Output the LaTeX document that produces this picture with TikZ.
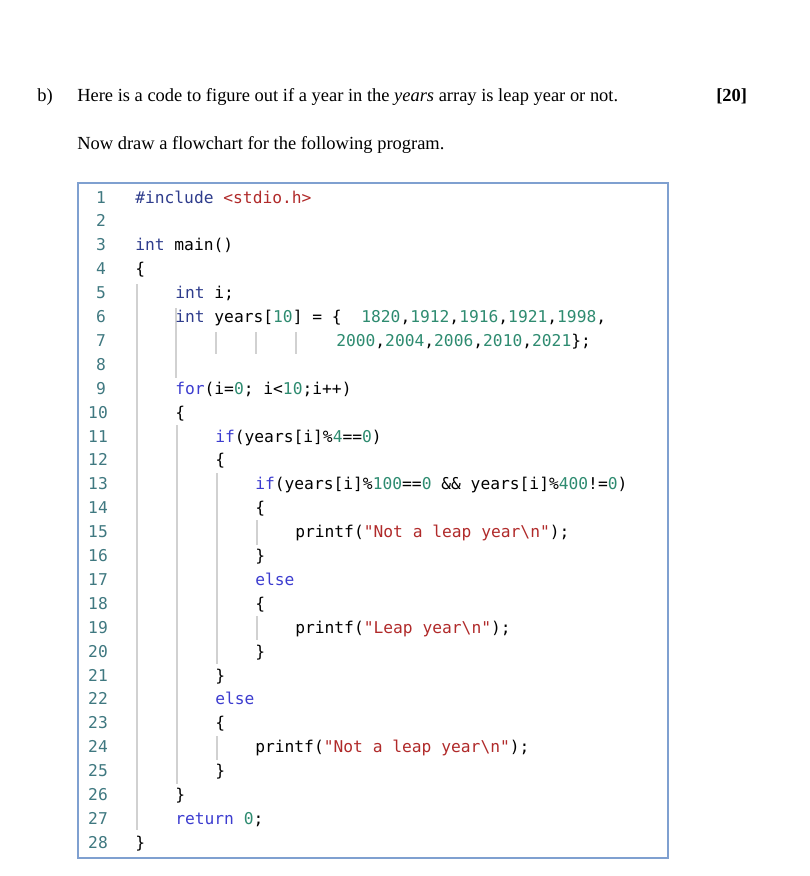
\documentclass[tikz,border=0pt]{standalone}
\usepackage{fontspec}
\setmainfont{Liberation Serif}
\setmonofont{DejaVu Sans Mono}
\definecolor{tyc}{HTML}{2E3C8C}
\definecolor{kwc}{HTML}{3C3CCF}
\definecolor{nmc}{HTML}{2E8B70}
\definecolor{stc}{HTML}{B02A2A}
\definecolor{lnc}{HTML}{3F7880}
\definecolor{boxc}{HTML}{7FA0D0}
\newcommand{\ty}[1]{\textcolor{tyc}{#1}}
\newcommand{\kw}[1]{\textcolor{kwc}{#1}}
\newcommand{\nm}[1]{\textcolor{nmc}{#1}}
\newcommand{\st}[1]{\textcolor{stc}{#1}}
\begin{document}
\begin{tikzpicture}[x=0.75pt,y=-0.75pt,
  prose/.style={anchor=base west,inner sep=0pt,font=\fontsize{13.85}{16}\selectfont},
  code/.style={anchor=base west,inner sep=0pt,font=\fontsize{12.2}{14}\selectfont\ttfamily},
  lnum/.style={anchor=base,inner sep=0pt,text=lnc,font=\fontsize{12.2}{14}\selectfont\ttfamily},
  guide/.style={draw=black!18,line width=0.8pt}]
\useasboundingbox (0,0) rectangle (810,876);
\node[prose] (b) at (37,101) {b)};
\node[prose] (t1) at (77,101) {Here is a code to figure out if a year in the \textit{years} array is leap year or not.};
\node[prose] (m) at (716,101) {\textbf{[20]}};
\node[prose] (t2) at (77,149) {Now draw a flowchart for the following program.};
\draw[boxc,line width=1.3pt] (78,183) rectangle (668,858);
% guides
\draw[guide] (137,284) -- (137,830);
\draw[guide] (176,308) -- (176,378);
\draw[guide] (216,332) -- (216,354);
\draw[guide] (256,332) -- (256,354);
\draw[guide] (296,332) -- (296,354);
\draw[guide] (177,425) -- (177,784);
\draw[guide] (217,473) -- (217,664);
\draw[guide] (217,736) -- (217,760);
\draw[guide] (257,520) -- (257,545);
\draw[guide] (257,616) -- (257,640);
% line numbers
\foreach \n in {1,...,9}{\node[lnum] (l\n) at (101,{203+(\n-1)*23.9}) {\n};}
\foreach \n in {10,...,28}{\node[lnum] (l\n) at (98,{203+(\n-1)*23.9}) {\n};}
% code
\node[code] (c1) at (135,203) {\ty{\#include} \st{<stdio.h>}};
\node[code] (c3) at (135,{203+2*23.9}) {\ty{int} main()};
\node[code] (c4) at (135,{203+3*23.9}) {\{};
\node[code] (c5) at (175,{203+4*23.9}) {\ty{int} i;};
\node[code] (c6) at (175,{203+5*23.9}) {\ty{int} years[\nm{10}] = \{\ \ \nm{1820},\nm{1912},\nm{1916},\nm{1921},\nm{1998},};
\node[code] (c7) at (336,{203+6*23.9}) {\nm{2000},\nm{2004},\nm{2006},\nm{2010},\nm{2021}\};};
\node[code] (c9) at (175,{203+8*23.9}) {\kw{for}(i=\nm{0}; i<\nm{10};i++)};
\node[code] (c10) at (175,{203+9*23.9}) {\{};
\node[code] (c11) at (215,{203+10*23.9}) {\kw{if}(years[i]\%\nm{4}==\nm{0})};
\node[code] (c12) at (215,{203+11*23.9}) {\{};
\node[code] (c13) at (255,{203+12*23.9}) {\kw{if}(years[i]\%\nm{100}==\nm{0} \&\& years[i]\%\nm{400}!=\nm{0})};
\node[code] (c14) at (255,{203+13*23.9}) {\{};
\node[code] (c15) at (295,{203+14*23.9}) {printf(\st{"Not a leap year\textbackslash n"});};
\node[code] (c16) at (255,{203+15*23.9}) {\}};
\node[code] (c17) at (255,{203+16*23.9}) {\kw{else}};
\node[code] (c18) at (255,{203+17*23.9}) {\{};
\node[code] (c19) at (295,{203+18*23.9}) {printf(\st{"Leap year\textbackslash n"});};
\node[code] (c20) at (255,{203+19*23.9}) {\}};
\node[code] (c21) at (215,{203+20*23.9}) {\}};
\node[code] (c22) at (215,{203+21*23.9}) {\kw{else}};
\node[code] (c23) at (215,{203+22*23.9}) {\{};
\node[code] (c24) at (255,{203+23*23.9}) {printf(\st{"Not a leap year\textbackslash n"});};
\node[code] (c25) at (215,{203+24*23.9}) {\}};
\node[code] (c26) at (175,{203+25*23.9}) {\}};
\node[code] (c27) at (175,{203+26*23.9}) {\kw{return} \nm{0};};
\node[code] (c28) at (135,{203+27*23.9}) {\}};
\end{tikzpicture}
\end{document}
